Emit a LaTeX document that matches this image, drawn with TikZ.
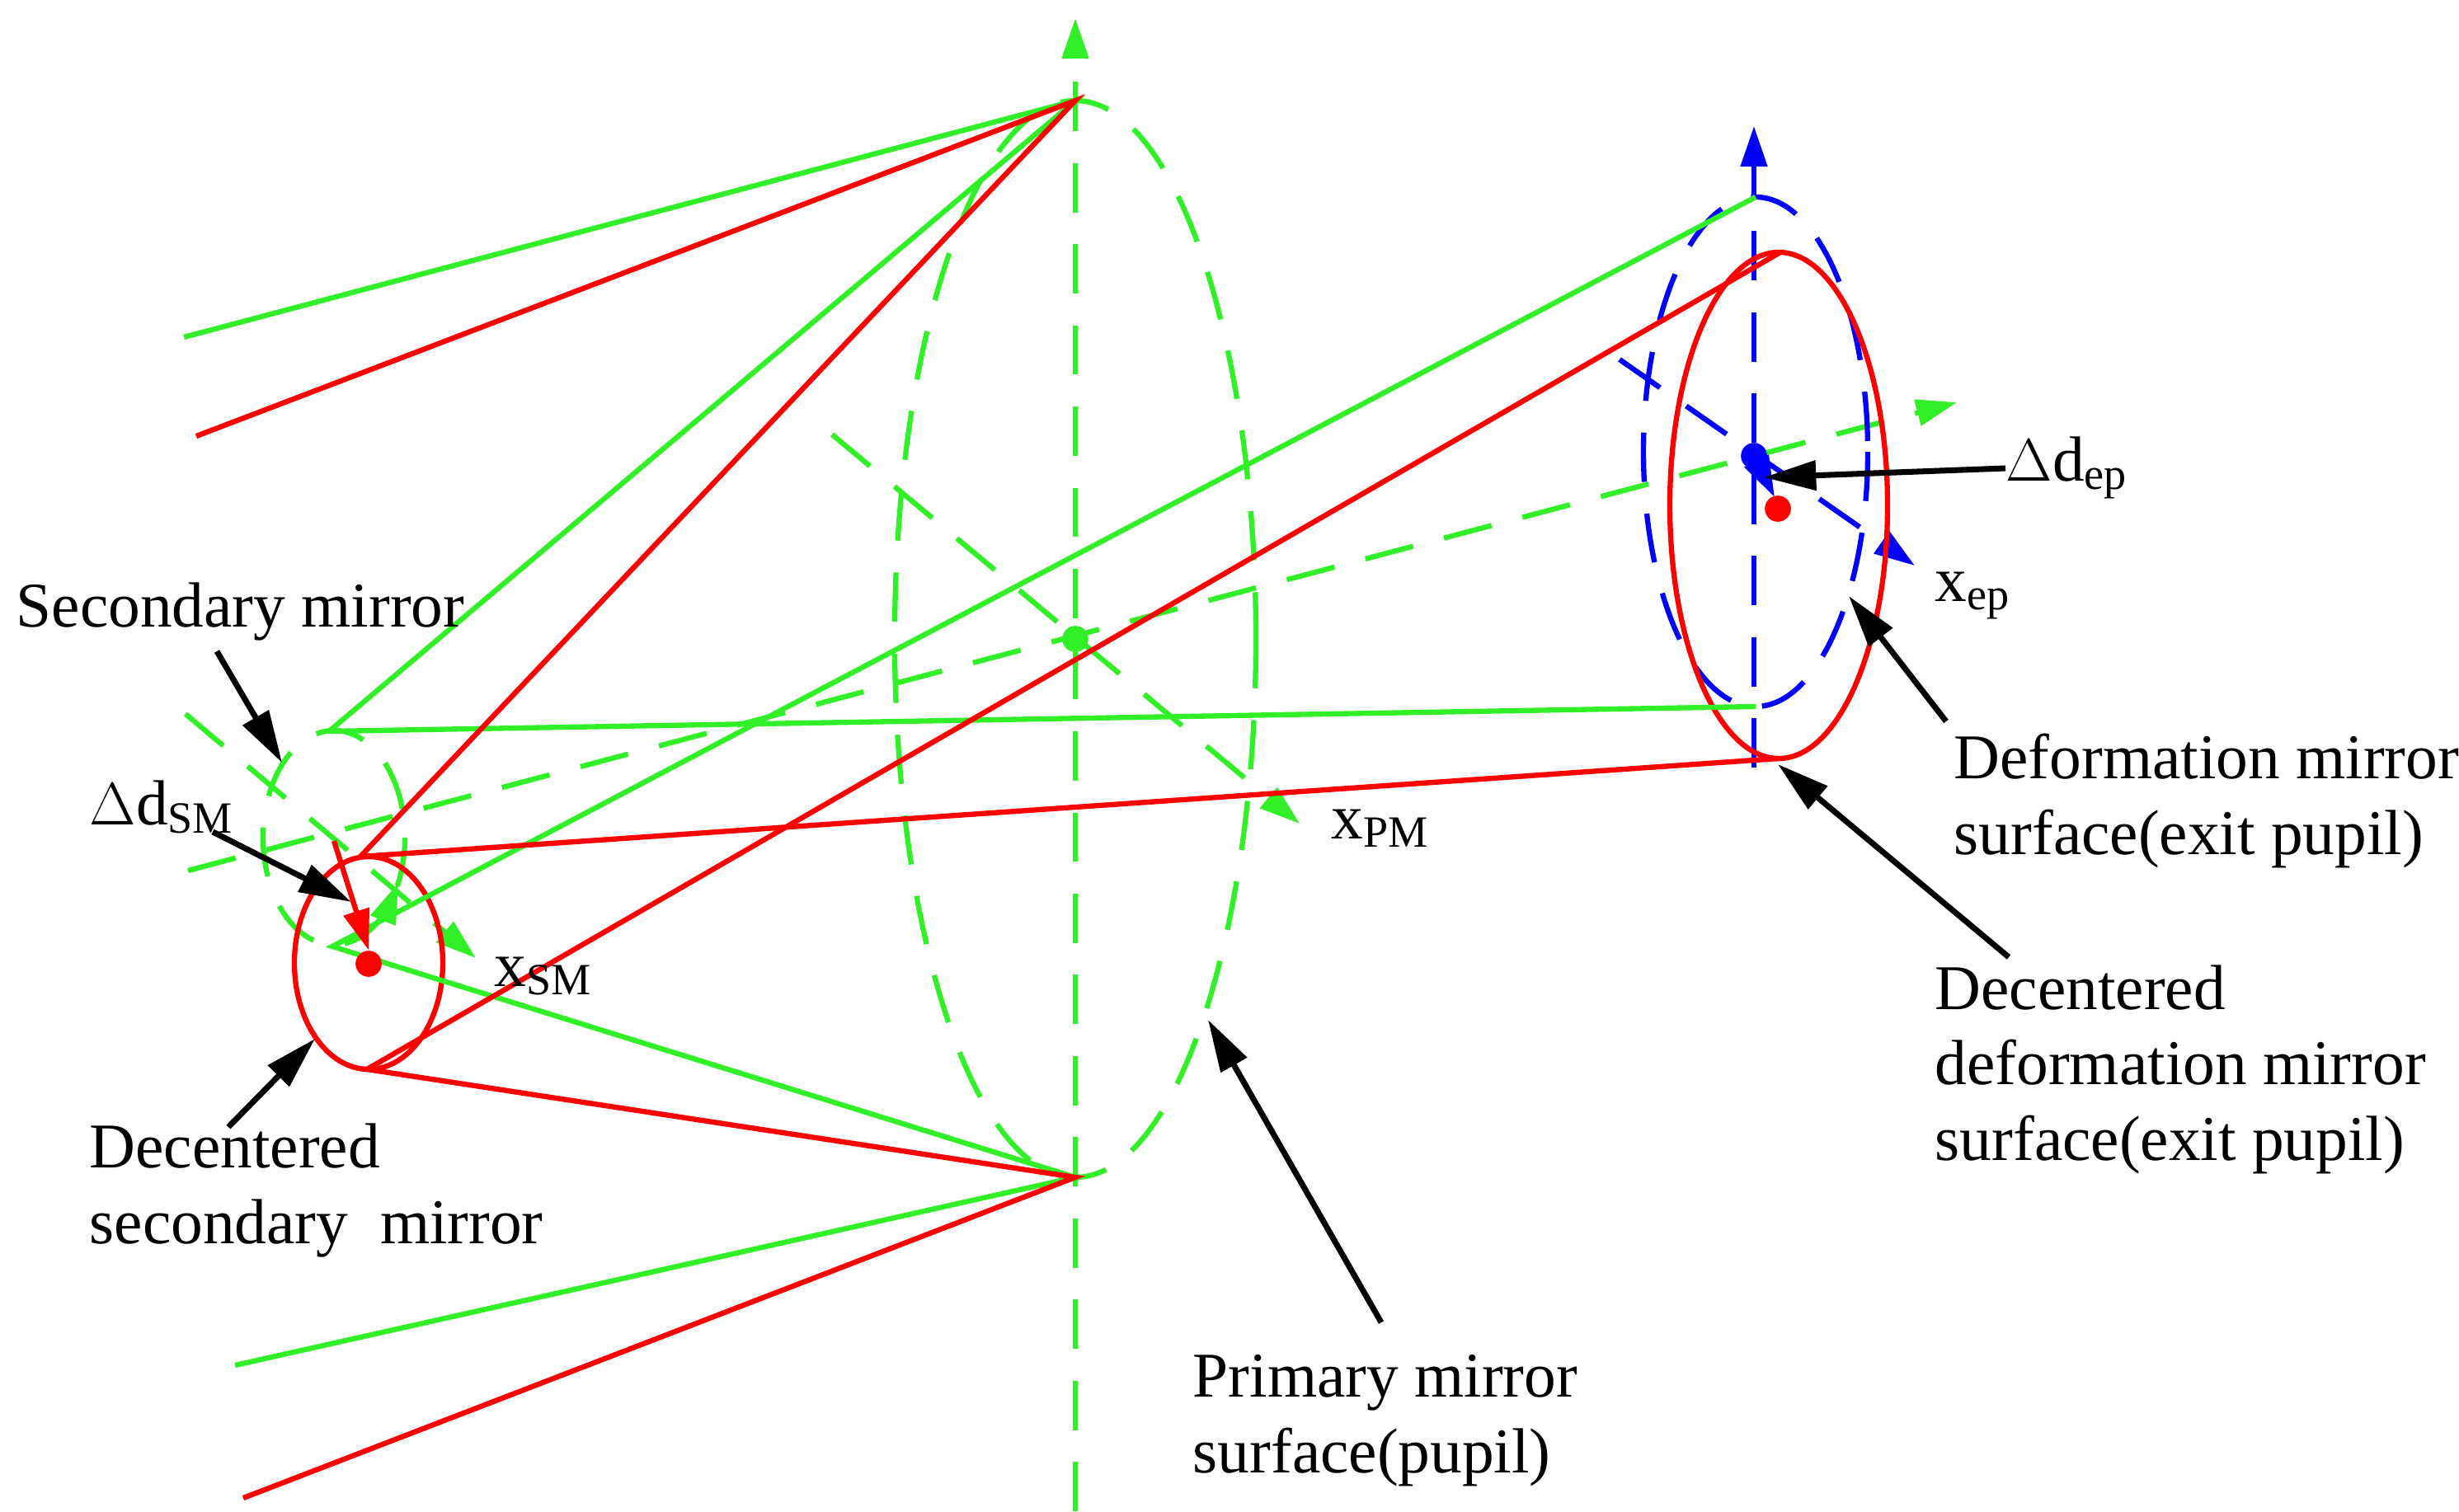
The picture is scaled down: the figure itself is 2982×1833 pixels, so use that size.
\documentclass[tikz,border=0pt]{standalone}
\usepackage{fontspec}
\setmainfont{Liberation Serif}
\usetikzlibrary{arrows.meta}
\definecolor{gr}{RGB}{50,240,40}
\begin{document}
\begin{tikzpicture}[x=0.01cm,y=-0.01cm,
  ln/.style={line width=1.8pt},
  dsh/.style={line width=1.8pt,dash pattern=on 17pt off 11pt},
  tip/.style={-{Triangle[length=14pt,width=9pt]}},
  btip/.style={line width=2pt,-{Triangle[length=18pt,width=10pt]}},
  lbl/.style={font=\fontsize{22}{26}\selectfont,anchor=base west,inner sep=0pt,align=left},
  dot/.style={circle,inner sep=0pt,minimum size=9pt}]
\useasboundingbox (0,0) rectangle (2982,1833);
% key points
\coordinate (T) at (1304,122);
\coordinate (B) at (1304,1428);
\coordinate (PC) at (1304,775);
\coordinate (SMt) at (399,887);
\coordinate (SMp) at (403,1148);
\coordinate (RSt) at (437,1039);
\coordinate (RSb) at (445,1297);
\coordinate (EPt) at (2129,239);
\coordinate (EPb) at (2129,857);
\coordinate (REt) at (2159,306);
\coordinate (REb) at (2157,920);
\coordinate (g1) at (223,409);
\coordinate (r1) at (238,529);
\coordinate (g2) at (285,1656);
\coordinate (r2) at (295,1817);
% primary mirror
\draw[dsh,gr] (PC) ellipse [x radius=219,y radius=653];
\draw[dsh,gr,tip] (1304,1833) -- (1304,22);
\draw[dsh,gr,tip] (1009,527) -- (1576,999);
\draw[dsh,gr,tip] (228,1056) -- (2373,488);
\node[dot,fill=gr] (pcd) at (PC) {};
% secondary
\draw[dsh,gr] (405,1016) ellipse [x radius=86,y radius=130];
\draw[dsh,gr,tip] (225,866) -- (577,1162);
\draw[dsh,gr,tip] (468,1108) -- (483,1071);
\draw[ln,red] (447,1168) ellipse [x radius=90,y radius=129];
% exit pupil
\draw[dsh,blue] (2129,548) ellipse [x radius=136,y radius=309];
\draw[dsh,blue,tip] (2127,931) -- (2127,153);
\draw[dsh,blue,tip] (1964,436) -- (2322,686);
\draw[ln,red] (2157,613) ellipse [x radius=132,y radius=307];
% rays
\draw[ln,gr] (g1) -- (T) -- (SMt) -- (EPb);
\draw[ln,gr] (g2) -- (B) -- (SMp) -- (EPt);
\draw[ln,red] (r1) -- (T) -- (RSt) -- (REb);
\draw[ln,red] (r2) -- (B) -- (RSb) -- (REt);
% decentering
\node[dot,fill=red] (rsd) at (447,1169) {};
\draw[ln,red,tip] (405,1020) -- (rsd.north);
\node[dot,fill=blue] (bd) at (2127,553) {};
\node[dot,fill=red] (red) at (2156,617) {};
\draw[ln,blue,tip] (bd) -- (2152,603);
% labels
\node[lbl] (l1) at (19,760) {Secondary mirror};
\node[lbl] (l2) at (108,1000) {$\Delta$d\textsubscript{SM}};
\node[lbl] (l3) at (108,1508) {Decentered\\secondary\ \ mirror};
\node[lbl] (l4) at (1446,1786) {Primary mirror\\surface(pupil)};
\node[lbl] (l5) at (2369,1036) {Deformation mirror\\surface(exit pupil)};
\node[lbl] (l6) at (2346,1407) {Decentered\\deformation mirror\\surface(exit pupil)};
\node[lbl] (lpm) at (1614,1017) {x\textsubscript{PM}};
\node[lbl] (lsm) at (599,1196) {x\textsubscript{SM}};
\node[lbl] (lep) at (2346,729) {x\textsubscript{ep}};
\node[lbl] (ldep) at (2432,583) {$\Delta$d\textsubscript{ep}};
% pointer arrows
\draw[btip] (263,790) -- (342,925);
\draw[btip] (258,1009) -- (426,1094);
\draw[btip] (277,1367) -- (382,1260);
\draw[btip] (1675,1604) -- (1465,1237);
\draw[btip] (2432,568) -- (2139,579);
\draw[btip] (2360,875) -- (2242,723);
\draw[btip] (2436,1161) -- (2156,927);
\end{tikzpicture}
\end{document}
